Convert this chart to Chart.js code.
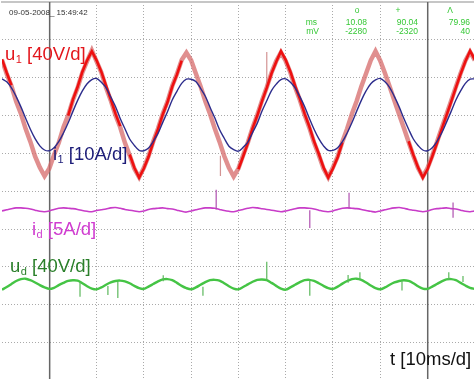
<!DOCTYPE html>
<html><head><meta charset="utf-8">
<script src="https://cdn.jsdelivr.net/npm/chart.js@4.4.0/dist/chart.umd.min.js"></script>
<style>html,body{margin:0;padding:0;background:#fff;overflow:hidden}canvas{display:block}</style>
</head><body>
<canvas id="c" width="474" height="379"></canvas>
<script>
// time axis, ms (10 ms per division)
const timeMs = [0,1,2,3,4,5,6,7,8,9,10,11,12,13,14,15,16,17,18,19,20,21,22,23,24,25,26,27,28,29,30,31,32,33,34,35,36,37,38,39,40,41,42,43,44,45,46,47,48,49,50,51,52,53,54,55,56,57,58,59,60,61,62,63,64,65,66,67,68,69,70,71,72,73,74,75,76,77,78,79,80,81,82,83,84,85,86,87,88,89,90,91,92,93,94,95,96,97,98,99,100];

// trace values in screen divisions (0 = bottom, 10 = top)
const u1Trace = [8.47,8.10,7.78,7.37,7.05,6.65,6.31,5.92,5.63,5.40,5.60,5.96,6.28,6.69,7.01,7.41,7.74,8.14,8.44,8.72,
8.43,8.14,7.74,7.40,7.01,6.69,6.28,5.95,5.59,5.37,5.62,5.93,6.32,6.66,7.05,7.37,7.78,8.10,8.47,8.66,
8.46,8.11,7.77,7.38,7.04,6.66,6.31,5.93,5.62,5.39,5.60,5.95,6.29,6.68,7.02,7.40,7.75,8.13,8.44,8.67,
8.44,8.13,7.75,7.41,7.02,6.68,6.29,5.96,5.60,5.37,5.63,5.92,6.31,6.65,7.04,7.38,7.77,8.11,8.46,8.70,
8.45,8.12,7.76,7.39,7.03,6.67,6.30,5.94,5.61,5.38,5.61,5.94,6.30,6.67,7.03,7.39,7.76,8.12,8.45,8.68,8.46];

const u1Bright = [8.49,8.13,7.80,null,null,null,null,null,null,null,null,null,null,null,
7.00,7.42,7.76,8.16,8.46,8.70,8.46,8.16,7.79,7.43,7.05,6.72,null,
5.97,5.62,5.36,5.60,5.91,6.30,6.64,7.03,7.35,7.76,8.08,8.45,
null,null,null,null,null,null,null,null,null,null,null,
5.58,5.92,6.27,6.66,7.00,7.38,7.73,8.11,8.42,8.70,8.47,8.16,7.78,7.44,7.05,6.71,6.32,5.99,5.63,5.36,5.60,5.90,6.29,
null,null,null,null,null,null,null,null,null,null,null,null,null,
6.32,5.96,5.63,5.36,5.58,5.92,6.27,6.64,7.00,7.36,7.74,8.10,8.43,8.71,8.48];

const i1Trace = [7.97,7.89,7.73,7.50,7.23,6.93,6.64,6.39,6.20,6.09,6.07,6.15,6.31,6.54,6.81,7.11,7.40,7.65,7.84,7.95,
7.98,7.88,7.74,7.49,7.24,6.92,6.65,6.38,6.21,6.08,6.07,6.14,6.32,6.53,6.82,7.10,7.41,7.64,7.85,7.96,
7.96,7.90,7.72,7.51,7.22,6.94,6.63,6.40,6.19,6.10,6.06,6.16,6.30,6.55,6.80,7.12,7.39,7.66,7.83,7.95,
7.97,7.88,7.73,7.50,7.24,6.93,6.64,6.39,6.20,6.08,6.08,6.15,6.31,6.54,6.81,7.11,7.40,7.65,7.84,7.94,
7.98,7.89,7.74,7.50,7.23,6.92,6.64,6.38,6.21,6.09,6.07,6.15,6.32,6.54,6.82,7.11,7.41,7.65,7.85,7.96,7.97];

const idTrace = [4.48,4.51,4.54,4.56,4.56,4.55,4.53,4.50,4.47,4.46,
4.48,4.52,4.55,4.56,4.55,4.54,4.52,4.49,4.47,4.46,
4.49,4.51,4.53,4.56,4.57,4.55,4.52,4.50,4.48,4.46,
4.48,4.52,4.54,4.55,4.56,4.54,4.53,4.50,4.47,4.45,
4.48,4.51,4.54,4.56,4.56,4.55,4.52,4.49,4.47,4.46,
4.49,4.52,4.55,4.57,4.56,4.54,4.52,4.50,4.48,4.46,
4.48,4.51,4.54,4.56,4.56,4.55,4.53,4.50,4.47,4.46,
4.48,4.52,4.55,4.56,4.55,4.54,4.52,4.49,4.47,4.45,
4.48,4.51,4.54,4.56,4.57,4.55,4.52,4.50,4.48,4.46,
4.48,4.52,4.54,4.55,4.56,4.54,4.53,4.50,4.47,4.46,4.48];

const udTrace = [2.40,2.47,2.55,2.63,2.68,2.69,2.65,2.59,2.52,2.46,
2.42,2.45,2.52,2.58,2.63,2.65,2.64,2.57,2.49,2.43,
2.41,2.46,2.53,2.59,2.63,2.64,2.62,2.57,2.50,2.44,
2.42,2.48,2.55,2.62,2.67,2.68,2.65,2.58,2.50,2.44,
2.41,2.46,2.53,2.60,2.65,2.66,2.64,2.57,2.49,2.43,
2.41,2.47,2.54,2.61,2.66,2.67,2.65,2.58,2.50,2.43,
2.40,2.46,2.53,2.60,2.65,2.66,2.63,2.57,2.50,2.44,
2.42,2.48,2.56,2.63,2.68,2.69,2.66,2.59,2.51,2.44,
2.41,2.46,2.53,2.59,2.63,2.65,2.63,2.57,2.49,2.43,
2.42,2.48,2.55,2.62,2.67,2.68,2.65,2.58,2.51,2.45,2.42];

// glitches (time, start level, end level)
const u1SpikeT = [46.2, 56.0];
const u1SpikeFrom = [5.94, 7.85];
const u1SpikeTo = [5.40, 8.68];
const idSpikeT = [45.3, 65.1, 73.4, 95.4];
const idSpikeFrom = [4.52, 4.50, 4.55, 4.30];
const idSpikeTo = [5.04, 4.03, 4.96, 4.70];
const udSpikeT = [16.5, 22.4, 24.5, 34.1, 42.5, 56.0, 65.1, 73.2, 75.7, 84.6, 94.5, 97.5];
const udSpikeFrom = [2.60, 2.50, 2.60, 2.62, 2.48, 2.66, 2.66, 2.58, 2.66, 2.62, 2.66, 2.60];
const udSpikeTo = [2.21, 2.26, 2.18, 2.78, 2.24, 3.14, 2.24, 2.79, 2.86, 2.38, 2.86, 2.76];

// cursors (ms) and grid divisions
const cursorT = [10.08, 90.04];
const gridX = [10,20,30,40,50,60,70,80,90];
const gridY = [1,2,3,4,5,6,7,8,9];
const xRange = [0, 99.83];
const yRange = [0.04, 10];

// texts
const stampText = '09-05-2008_ 15:49:42';
const unitTexts = ['ms', 'mV'];
const cursorHeads = ['o', '+', '\u039B'];
const cursorTimeTexts = ['10.08', '90.04', '79.96'];
const cursorVoltTexts = ['-2280', '-2320', '40'];
const channelLabels = [
  {main:'u', sub:'1', rest:' [40V/d]'},
  {main:'i', sub:'1', rest:' [10A/d]'},
  {main:'i', sub:'d', rest:' [5A/d]'},
  {main:'u', sub:'d', rest:' [40V/d]'},
  {main:'t [10ms/d]', sub:'', rest:''}
];

function pts(vals){ return timeMs.map((t,i)=>({x:t, y:vals[i]})); }
function spikes(T, F, E){ const o=[]; T.forEach((t,i)=>{ o.push({x:t,y:F[i]},{x:t,y:E[i]},{x:t,y:null}); }); return o; }
function cursors(){ const o=[]; cursorT.forEach(t=>{ o.push({x:t,y:yRange[0]},{x:t,y:yRange[1]},{x:t,y:null}); }); return o; }

const FONT = '"Liberation Sans", Arial, sans-serif';
const labelStyle = [
  {x:5,   y:55,  color:'#e3161c'},
  {x:53,  y:155, color:'#1c1c78'},
  {x:32,  y:230, color:'#d03cd0'},
  {x:10,  y:267, color:'#2a7f2a'},
  {x:390, y:360, color:'#111111'}
];

function drawSub(ctx, lab, st, size){
  ctx.fillStyle = st.color;
  ctx.textBaseline = 'middle';
  ctx.textAlign = 'left';
  ctx.font = size + 'px ' + FONT;
  let x = st.x;
  ctx.fillText(lab.main, x, st.y);
  x += ctx.measureText(lab.main).width;
  if (lab.sub){
    ctx.font = Math.round(size*0.62) + 'px ' + FONT;
    ctx.fillText(lab.sub, x + 0.5, st.y + size*0.28);
    x += ctx.measureText(lab.sub).width + 0.5;
  }
  if (lab.rest){
    ctx.font = size + 'px ' + FONT;
    ctx.fillText(lab.rest, x, st.y);
  }
}

const textPlugin = {
  id: 'scopeText',
  afterDatasetsDraw(chart){
    const ctx = chart.ctx;
    ctx.save();
    ctx.textBaseline = 'middle';
    ctx.font = '8px ' + FONT;
    ctx.fillStyle = '#333';
    ctx.textAlign = 'left';
    ctx.fillText(stampText, 9, 13);
    ctx.fillStyle = '#36c836';
    ctx.font = '8.5px ' + FONT;
    ctx.textAlign = 'right';
    ctx.fillText(unitTexts[0], 317, 22.5);
    ctx.fillText(unitTexts[1], 319, 31.5);
    const right = [367, 418, 470];
    const head = [357, 398, 450];
    ctx.textAlign = 'center';
    cursorHeads.forEach((h,i)=>ctx.fillText(h, head[i], 10.5));
    ctx.textAlign = 'right';
    cursorTimeTexts.forEach((s,i)=>ctx.fillText(s, right[i], 22.5));
    cursorVoltTexts.forEach((s,i)=>ctx.fillText(s, right[i], 31.5));
    channelLabels.forEach((lab,i)=>drawSub(ctx, lab, labelStyle[i], 18.5));
    ctx.restore();
  }
};

const gridColor = '#aaaaaa';
new Chart(document.getElementById('c'), {
  type: 'line',
  data: {
    datasets: [
      {data: pts(i1Trace), borderColor:'#2c2c8c', borderWidth:1.4, order:1, tension:0.35},
      {data: pts(u1Bright), borderColor:'#ee1010', borderWidth:2.6, order:2, tension:0},
      {data: spikes(u1SpikeT,u1SpikeFrom,u1SpikeTo), borderColor:'rgba(200,120,120,0.8)', borderWidth:1.2, order:3, tension:0},
      {data: pts(u1Trace), borderColor:'rgba(214,105,105,0.75)', borderWidth:4.5, order:4, tension:0},
      {data: spikes(idSpikeT,idSpikeFrom,idSpikeTo), borderColor:'#b050b0', borderWidth:1.2, order:5, tension:0},
      {data: pts(idTrace), borderColor:'#c83cc8', borderWidth:1.6, order:6, tension:0.3},
      {data: spikes(udSpikeT,udSpikeFrom,udSpikeTo), borderColor:'#5cb85c', borderWidth:1.2, order:7, tension:0},
      {data: pts(udTrace), borderColor:'#45c445', borderWidth:2.4, order:8, tension:0.3},
      {data: cursors(), borderColor:'#666666', borderWidth:1.5, order:9, tension:0}
    ]
  },
  options: {
    responsive: false,
    animation: false,
    events: [],
    layout: {padding: {left:2, top:2, right:0, bottom:0}},
    elements: {point: {radius:0}, line: {borderCapStyle:'butt'}},
    plugins: {legend:{display:false}, tooltip:{enabled:false}},
    scales: {
      x: {
        type:'linear', min:xRange[0], max:xRange[1],
        afterBuildTicks: s => { s.ticks = gridX.map(v=>({value:v})); },
        afterFit: s => { s.height = 0; },
        ticks:{display:false}, grid:{color:gridColor, lineWidth:1, drawTicks:false},
        border:{display:false, dash:[1,2]}
      },
      x2: {
        type:'linear', position:'top', min:xRange[0], max:xRange[1],
        afterFit: s => { s.height = 0; },
        ticks:{display:false}, grid:{display:false, drawTicks:false},
        border:{display:true, color:'#c6c6c6', width:2}
      },
      y: {
        type:'linear', min:yRange[0], max:yRange[1],
        afterBuildTicks: s => { s.ticks = gridY.map(v=>({value:v})); },
        afterFit: s => { s.width = 0; },
        ticks:{display:false}, grid:{color:gridColor, lineWidth:1, drawTicks:false},
        border:{display:false, dash:[1,2]}
      }
    }
  },
  plugins: [textPlugin]
});
</script>
</body></html>
